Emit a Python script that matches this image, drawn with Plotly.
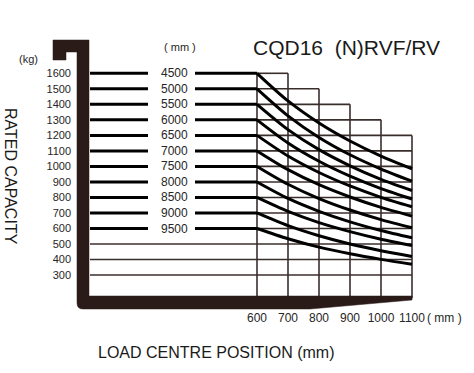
import plotly.graph_objects as go

# ---------------- data ----------------
load_centres = [600, 700, 800, 900, 1000, 1100]
capacity_ticks = [1600, 1500, 1400, 1300, 1200, 1100, 1000, 900, 800, 700, 600, 500, 400, 300]
mast_heights = [4500, 5000, 5500, 6000, 6500, 7000, 7500, 8000, 8500, 9000, 9500]
rated_caps = [1600, 1500, 1400, 1300, 1200, 1100, 1000, 900, 800, 700, 600]
# capacity (kg) at each load centre for each mast height
capacity_curves = [
    [1600, 1422, 1280, 1164, 1067, 985],
    [1500, 1326, 1187, 1075, 983, 905],
    [1400, 1237, 1108, 1004, 917, 845],
    [1300, 1151, 1033, 937, 857, 790],
    [1200, 1067, 961, 874, 801, 740],
    [1100, 979, 882, 803, 736, 680],
    [1000, 885, 793, 719, 657, 605],
    [900, 794, 711, 643, 587, 540],
    [800, 710, 638, 580, 531, 490],
    [700, 618, 553, 500, 457, 420],
    [600, 534, 480, 437, 401, 370],
]
# staircase grid: right end of each horizontal row, top of each vertical line
row_grid_end = [700, 800, 900, 1000, 1100, 1100, 1100, 1100, 1100, 1100, 1100, 1100, 1100, 1100]
col_grid_top = [1600, 1600, 1500, 1400, 1300, 1200]

# ---------------- layout constants ----------------
W, H = 474, 373
X_RANGE = [-229.03, 1300.0]
Y_RANGE = [-331.0, 2072.3]
FRAME = "#2a1b18"
GRID = "#3a2e2c"
TXT = "#262626"
FONT = "Liberation Sans, Arial, sans-serif"

LEFT_LINE = (61.3, 248.4)    # thick line before label (data units)
RIGHT_LINE = (400.0, 600.0)  # thick line after label
LABEL_X = 335.0
GRID_LEFT = 61.3
GRID_BOTTOM = 150


def px(p):
    return p / W


def py(p):
    return 1 - p / H


fig = go.Figure()

shapes = []
# horizontal grid rows
for lvl, end in zip(capacity_ticks, row_grid_end):
    x0 = 600 if lvl in rated_caps else GRID_LEFT
    shapes.append(dict(type="line", xref="x", yref="y", x0=x0, x1=end, y0=lvl, y1=lvl,
                       line=dict(color=GRID, width=1.6), layer="below"))
# vertical grid columns
for xc, top in zip(load_centres, col_grid_top):
    shapes.append(dict(type="line", xref="x", yref="y", x0=xc, x1=xc, y0=GRID_BOTTOM, y1=top,
                       line=dict(color=GRID, width=1.6), layer="below"))
# thick rated-capacity lines with mast height labels
for cap in rated_caps:
    for a, b in (LEFT_LINE, RIGHT_LINE):
        shapes.append(dict(type="line", xref="x", yref="y", x0=a, x1=b, y0=cap, y1=cap,
                           line=dict(color="#000000", width=3)))

# frame (L-shaped fork outline) in paper coordinates
pts = [(53, 40), (89, 40), (89, 296), (412, 296), (412, 300), (310, 309),
       (83, 309)]
path = "M " + " L ".join(f"{px(a):.5f},{py(b):.5f}" for a, b in pts)
path += f" Q {px(77):.5f},{py(309):.5f} {px(77):.5f},{py(303):.5f}"
path += " L " + " L ".join(f"{px(a):.5f},{py(b):.5f}" for a, b in [(77, 52), (66, 52), (66, 60), (53, 60)])
path += " Z"
shapes.append(dict(type="path", xref="paper", yref="paper", path=path,
                   fillcolor=FRAME, line=dict(color=FRAME, width=0.5)))

for vals in capacity_curves:
    fig.add_trace(go.Scatter(x=load_centres, y=vals, mode="lines",
                             line=dict(color="#000000", width=3, shape="spline", smoothing=0.8),
                             hoverinfo="skip", showlegend=False))


def ann(x, y, text, size, color=TXT, **kw):
    d = dict(x=px(x), y=py(y), xref="paper", yref="paper", text=text, showarrow=False,
             xanchor="center", yanchor="middle", font=dict(family=FONT, size=size, color=color))
    d.update(kw)
    return d


annotations = []
for h, cap in zip(mast_heights, rated_caps):
    annotations.append(dict(x=LABEL_X, y=cap, xref="x", yref="y", text=str(h), showarrow=False,
                            xanchor="center", yanchor="middle",
                            font=dict(family=FONT, size=12, color=TXT)))

annotations += [
    ann(346, 48, "CQD16\u00a0\u00a0(N)RVF/RV", 21, "#1a1a1a"),
    ann(180, 47, "( mm )", 11),
    ann(28, 59, "(kg)", 11),
    ann(444, 318, "( mm )", 12),
    ann(216, 352, "LOAD CENTRE POSITION (mm)", 16, "#1a1a1a"),
    ann(11, 176, "RATED CAPACITY", 16, "#1a1a1a", textangle=90),
]

fig.update_layout(
    width=W, height=H, template="none",
    margin=dict(l=0, r=0, t=0, b=0, pad=0),
    paper_bgcolor="white", plot_bgcolor="rgba(0,0,0,0)",
    showlegend=False,
    shapes=shapes, annotations=annotations,
    xaxis=dict(range=X_RANGE, showgrid=False, zeroline=False, showline=False,
               tickvals=load_centres, ticktext=[str(v) for v in load_centres],
               ticks="", anchor="free", position=py(309), ticklabelstandoff=0,
               tickfont=dict(family=FONT, size=12, color=TXT), fixedrange=True, automargin=False),
    yaxis=dict(range=Y_RANGE, showgrid=False, zeroline=False, showline=False,
               tickvals=capacity_ticks, ticktext=[str(v) for v in capacity_ticks],
               ticks="", anchor="free", position=px(77), ticklabelstandoff=6,
               tickfont=dict(family=FONT, size=11, color=TXT), fixedrange=True, automargin=False),
)

fig.write_html("out.html")
